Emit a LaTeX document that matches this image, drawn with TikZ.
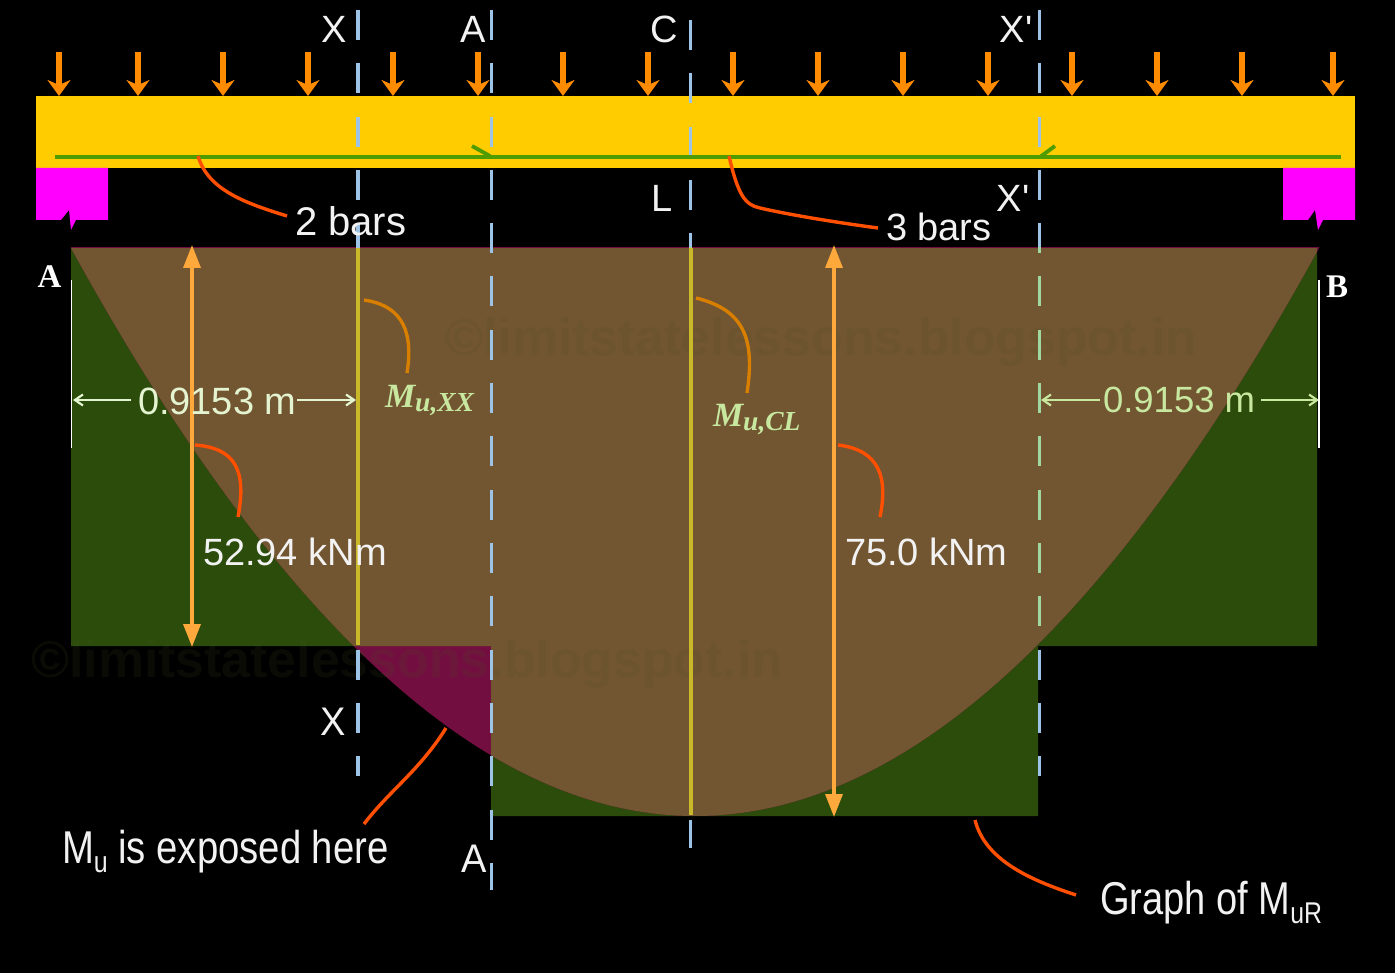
\documentclass[tikz,border=0pt]{standalone}
\usepackage{fontspec}
\usepackage{graphicx}
\usetikzlibrary{arrows.meta}
\setmainfont{Liberation Sans}
\newfontfamily\serifbf{Liberation Serif}[BoldFont={Liberation Serif Bold},ItalicFont={Liberation Serif Italic},BoldItalicFont={Liberation Serif Bold Italic}]
\definecolor{beam}{HTML}{FFCC00}
\definecolor{rebar}{HTML}{4F9C00}
\definecolor{load}{HTML}{FF8C00}
\definecolor{leader}{HTML}{FF4F00}
\definecolor{leadertwo}{HTML}{D97F00}
\definecolor{dim}{HTML}{FFA93C}
\definecolor{axisblue}{HTML}{9DC3E6}
\definecolor{axisgreen}{HTML}{A0D8A0}
\definecolor{ygreen}{HTML}{C8B82A}
\definecolor{stepgreen}{HTML}{2B4C0A}
\definecolor{momentbrown}{HTML}{725531}
\definecolor{exposed}{HTML}{720F40}
\definecolor{pale}{HTML}{C8E8A0}
\definecolor{palew}{HTML}{E4F4D0}
\definecolor{txt}{HTML}{F2F2F2}
\definecolor{supportm}{HTML}{FF00FF}
\definecolor{olivewm}{HTML}{4A5A20}
\newcommand{\bigtxt}{\fontsize{38}{40}\selectfont}
\newcommand{\condtxt}{\fontsize{46}{48}\selectfont}
\newcommand{\subM}[1]{{\serifbf\bfseries\itshape\fontsize{34}{36}\selectfont M\raisebox{-5pt}{\fontsize{27.5}{29}\selectfont #1}}}
\tikzset{
  lbl/.style={inner sep=0pt,outer sep=0pt,text=txt,anchor=base,font=\bigtxt},
  lblw/.style={lbl,anchor=base west},
  axisline/.style={draw=axisblue,line width=3.3pt,dash pattern=on 30pt off 23.3pt},
  loadarrow/.style={draw=load,line width=6pt,-{Stealth[length=16pt,width=23pt,inset=5pt]}},
  dimarrow/.style={draw=dim,line width=3.4pt,{Stealth[length=23pt,width=17pt,inset=0pt]}-{Stealth[length=23pt,width=17pt,inset=0pt]}},
  palearrow/.style={draw=pale,line width=2.2pt,-{Straight Barb[length=8pt,width=11pt]}},
  leadline/.style={draw=leader,line width=3.4pt},
  leadtwo/.style={draw=leadertwo,line width=3.4pt},
  yline/.style={draw=ygreen,line width=3.8pt},
  mark line/.style={draw=white,line width=1.4pt},
  wm/.style={inner sep=0pt,anchor=base west,text=olivewm,text opacity=.13,font=\fontsize{51.8}{53}\selectfont\bfseries}
}
\begin{document}
\begin{tikzpicture}[x=1pt,y=-1pt]
\useasboundingbox[fill=black] (0,0) rectangle (1395,973);
% beam
\fill[beam] (36,96) rectangle (1355,168);
% axis lines
\coordinate (xt) at (358,10); \coordinate (xb) at (358,776);
\coordinate (at) at (491.5,10); \coordinate (ab) at (491.5,890);
\coordinate (ct) at (690.5,20); \coordinate (cb) at (690.5,848);
\coordinate (xpt) at (1039.5,10); \coordinate (xpb) at (1039.5,776);
% moment diagram
\fill[stepgreen] (71,248) -- (1317,248) -- (1317,646) -- (1038,646) -- (1038,816) -- (491,816) -- (491,646) -- (71,646) -- cycle;
\fill[exposed] plot[domain=71:1319,samples=160] (\x,{816-568*((\x-695)/624)^2}) -- cycle;
\begin{scope}
\clip (71,248) -- (1317,248) -- (1317,646) -- (1038,646) -- (1038,816) -- (491,816) -- (491,646) -- (71,646) -- cycle;
\fill[momentbrown] plot[domain=71:1319,samples=160] (\x,{816-568*((\x-695)/624)^2}) -- cycle;
\end{scope}
\draw[exposed,line width=1pt] (71,248) -- (1319,248);
% watermarks
\node[wm] (wma) at (445,356) {©limitstatelessons.blogspot.in};
\node[wm] (wmb) at (31,677) {©limitstatelessons.blogspot.in};
% axes drawn over
\draw[axisline] (xt) -- (xb);
\draw[axisline] (at) -- (ab);
\draw[axisline] (ct) -- (cb);
\draw[axisline] (xpt) -- (xpb);
\begin{scope}
\clip (1030,248) rectangle (1050,646);
\draw[axisline,draw=axisgreen] (xpt) -- (xpb);
\end{scope}
\begin{scope}
\clip (680,248) rectangle (700,816);
\draw[axisline,draw=axisgreen] (ct) -- (cb);
\end{scope}
\coordinate (y1t) at (358,248); \coordinate (y1b) at (358,645);
\coordinate (y2t) at (691,248); \coordinate (y2b) at (691,815);
\draw[yline] (y1t) -- (y1b);
\draw[yline] (y2t) -- (y2b);
% rebar
\coordinate (r1) at (55,157); \coordinate (r2) at (1341,157);
\coordinate (b1a) at (472,146); \coordinate (b1b) at (490,156);
\coordinate (b2a) at (1055,146); \coordinate (b2b) at (1040,157);
\draw[draw=rebar,line width=4.5pt] (r1) -- (r2);
\draw[draw=rebar,line width=3.8pt] (b1a) -- (b1b);
\draw[draw=rebar,line width=3.8pt] (b2a) -- (b2b);
% loads
\foreach \px in {59,138,223,308,393,478,563,648,733,818,903,988,1072,1157,1242,1333}{
  \draw[loadarrow] (\px,52) -- (\px,96);
}
% supports
\fill[supportm] (36,168) -- (108,168) -- (108,220) -- (76,220) -- (71,230) -- (69,210) -- (61,220) -- (36,220) -- cycle;
\fill[supportm] (1283,168) -- (1355,168) -- (1355,220) -- (1323,220) -- (1318,230) -- (1315,210) -- (1308,220) -- (1283,220) -- cycle;
% dimension arrows
\coordinate (d1t) at (192,245); \coordinate (d1b) at (192,647);
\coordinate (d2t) at (834,245); \coordinate (d2b) at (834,817);
\draw[dimarrow] (d1t) -- (d1b);
\draw[dimarrow] (d2t) -- (d2b);
% end marks
\coordinate (m1t) at (71.5,280); \coordinate (m1b) at (71.5,448);
\coordinate (m2t) at (1319,280); \coordinate (m2b) at (1319,448);
\draw[mark line] (m1t) -- (m1b);
\draw[mark line] (m2t) -- (m2b);
% texts
\node[lbl] (lx) at (334,43) {X};
\node[lbl] (la) at (473,43) {A};
\node[lbl] (lc) at (664,43) {C};
\node[lbl] (lxp) at (1016,43) {X\textquotesingle};
\node[lbl] (ll) at (662,212) {L};
\node[lbl] (lxp2) at (1013,212) {X\textquotesingle};
\node[lblw,font=\fontsize{40}{42}\selectfont] (twobars) at (295,236) {2 bars};
\node[lblw] (threebars) at (886,241) {3 bars};
\node[lblw,text=palew] (dl) at (138,414) {0.9153 m};
\node[lblw,text=pale,font=\fontsize{36.5}{38}\selectfont] (dr) at (1103,413) {0.9153 m};
\node[lblw] (m5294) at (203,565) {52.94 kNm};
\node[lblw] (m75) at (845,565) {75.0 kNm};
\node[lbl] (lx2) at (333,735) {\scalebox{1}[1.05]{X}};
\node[lbl] (la2) at (474,872) {\scalebox{1}[1.05]{A}};
\node[lblw] (expo) at (62,863) {\condtxt\scalebox{.832}[1]{M\raisebox{-9pt}{\fontsize{30}{32}\selectfont u} is exposed here}};
\node[lblw] (graph) at (1100,914) {\condtxt\scalebox{.827}[1]{Graph of M\raisebox{-9pt}{\fontsize{30}{32}\selectfont uR}}};
\node[lbl,text=white,font=\serifbf\bfseries\fontsize{33}{35}\selectfont] (pa) at (49.5,288) {A};
\node[lbl,text=white,font=\serifbf\bfseries\fontsize{33}{35}\selectfont] (pb) at (1337,298) {B};
\node[lblw,text=pale] (mxx) at (385,407) {\subM{u,XX}};
\node[lblw,text=pale] (mcl) at (713,426) {\subM{u,CL}};
% pale dimension arrows
\coordinate (al) at (73,400); \coordinate (ar) at (356,400);
\coordinate (bl) at (1041,400); \coordinate (br) at (1319,400);
\draw[palearrow,draw=palew] (131,400) -- (al);
\draw[palearrow,draw=palew] (297,400) -- (ar);
\draw[palearrow] (1100,400) -- (bl);
\draw[palearrow] (1261,400) -- (br);
% leaders
\coordinate (c1) at (198,156); \coordinate (c2) at (287,216);
\coordinate (c3) at (729,156); \coordinate (c4) at (878,228);
\coordinate (c5) at (195,445); \coordinate (c6) at (238,517);
\coordinate (c7) at (838,445); \coordinate (c8) at (880,517);
\coordinate (c9) at (446,728); \coordinate (c10) at (364,824);
\coordinate (c11) at (975,820); \coordinate (c12) at (1076,895);
\coordinate (c13) at (364,300); \coordinate (c14) at (407,373);
\coordinate (c15) at (696,298); \coordinate (c16) at (747,393);
\draw[leadline] (c1) .. controls (208,190) and (245,203) .. (c2);
\draw[leadline] (c3) .. controls (738,195) and (745,205) .. (760,208) .. controls (790,215) and (840,223) .. (c4);
\draw[leadline] (c5) .. controls (235,448) and (247,470) .. (c6);
\draw[leadline] (c7) .. controls (880,450) and (888,478) .. (c8);
\draw[leadline] (c9) .. controls (420,770) and (390,790) .. (c10);
\draw[leadline] (c11) .. controls (985,860) and (1030,880) .. (c12);
\draw[leadtwo] (c13) .. controls (405,306) and (413,335) .. (c14);
\draw[leadtwo] (c15) .. controls (745,310) and (755,340) .. (c16);
\end{tikzpicture}
\end{document}
